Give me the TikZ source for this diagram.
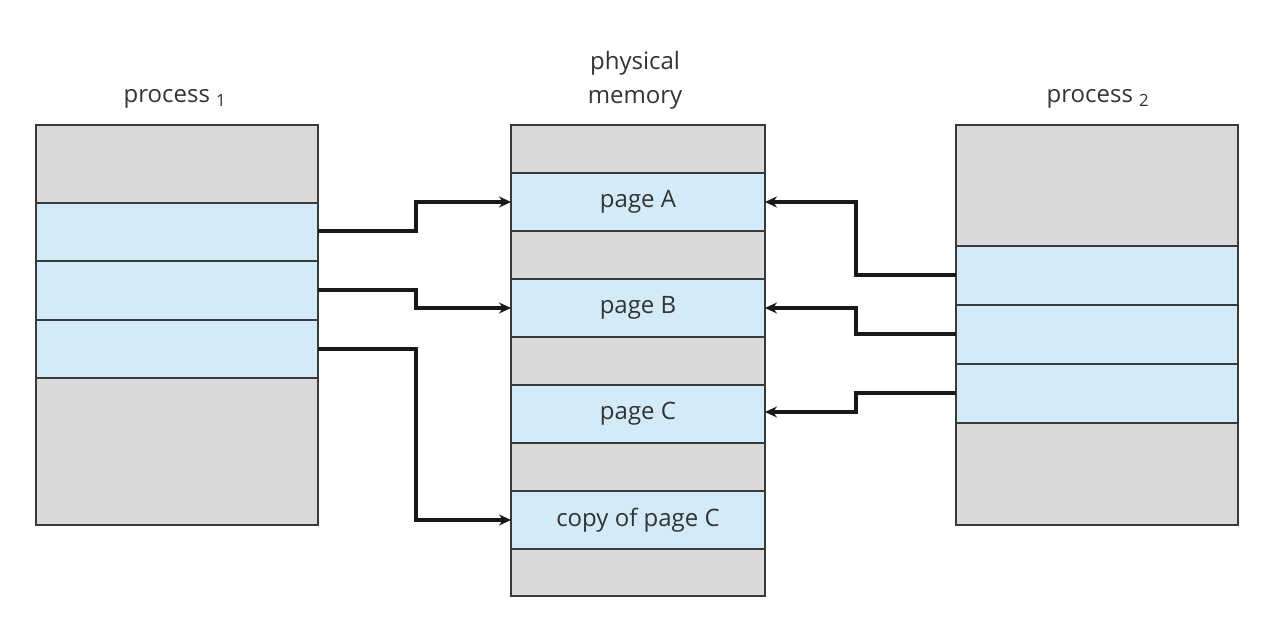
\documentclass[tikz,border=0pt]{standalone}
\usepackage{fontspec}
\setmainfont{Open Sans}
\usetikzlibrary{arrows.meta}
\definecolor{gr}{HTML}{DADADA}
\definecolor{bl}{HTML}{D3EBF8}
\definecolor{ln}{HTML}{3A3A3A}
\begin{document}
\begin{tikzpicture}[x=1pt,y=-1pt,
 cell/.style={draw=ln,line width=1.5pt,inner sep=0},
 g/.style={cell,fill=gr},
 b/.style={cell,fill=bl},
 lab/.style={font=\fontsize{24}{34}\selectfont,text=black!80},
 arr/.style={line width=3.2pt,-{Stealth[length=12pt,width=11pt]},draw=black!90}]
\useasboundingbox (0,0) rectangle (1280,644);
% process 1
\draw[g] (36,125) rectangle (318,203);
\draw[b] (36,203) rectangle (318,261);
\draw[b] (36,261) rectangle (318,320);
\draw[b] (36,320) rectangle (318,378);
\draw[g] (36,378) rectangle (318,525);
% physical memory
\draw[g] (511,125) rectangle (765,173);
\draw[b] (511,173) rectangle (765,231) node[midway,lab] (pa) {page A};
\draw[g] (511,231) rectangle (765,279);
\draw[b] (511,279) rectangle (765,337) node[midway,lab] (pb) {page B};
\draw[g] (511,337) rectangle (765,385);
\draw[b] (511,385) rectangle (765,443) node[midway,lab] (pc) {page C};
\draw[g] (511,443) rectangle (765,491);
\draw[b] (511,491) rectangle (765,549) node[midway,lab] (pcc) {copy of page C};
\draw[g] (511,549) rectangle (765,596);
% process 2
\draw[g] (956,125) rectangle (1238,246);
\draw[b] (956,246) rectangle (1238,305);
\draw[b] (956,305) rectangle (1238,364);
\draw[b] (956,364) rectangle (1238,423);
\draw[g] (956,423) rectangle (1238,525);
% labels
\node[lab] (l1) at (175,99) {process $_{\mathrm{1}}$};
\node[lab,align=center] (lm) at (635,80) {physical\\memory};
\node[lab] (l2) at (1098,99) {process $_{\mathrm{2}}$};
% coordinates
\coordinate (a1) at (318,231); \coordinate (a2) at (318,290); \coordinate (a3) at (318,349);
\coordinate (b1) at (956,275); \coordinate (b2) at (956,334); \coordinate (b3) at (956,393);
\draw[arr] (a1) -- (416,231) -- (416,202) -- (511,202);
\draw[arr] (a2) -- (416,290) -- (416,308) -- (511,308);
\draw[arr] (a3) -- (416,349) -- (416,520) -- (511,520);
\draw[arr] (b1) -- (856,275) -- (856,202) -- (765,202);
\draw[arr] (b2) -- (856,334) -- (856,308) -- (765,308);
\draw[arr] (b3) -- (856,393) -- (856,412) -- (765,412);
\end{tikzpicture}
\end{document}
